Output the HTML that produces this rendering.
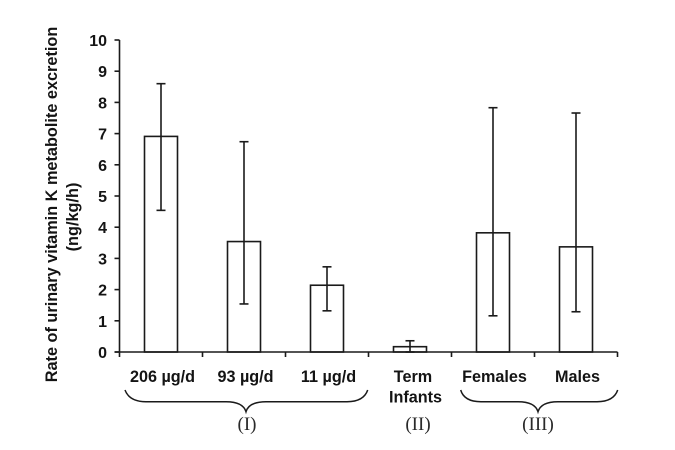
<!DOCTYPE html>
<html lang="en">
<head>
<meta charset="utf-8">
<title>Rate of urinary vitamin K metabolite excretion</title>
<style>
html,body{margin:0;padding:0;background:#fff;width:675px;height:450px;overflow:hidden}
svg{display:block}
text{fill:#141414}
.s{font-family:"Liberation Sans",sans-serif;font-weight:bold}
.r{font-family:"Liberation Serif",serif;font-size:19px;fill:#2a2a2a}
</style>
</head>
<body>
<svg id="chart" width="675" height="450" viewBox="0 0 675 450" xmlns="http://www.w3.org/2000/svg">
  <rect width="675" height="450" fill="#fff"/>
  <g id="bars"></g>
  <g id="axes"></g>
  <text class="s" font-size="16.3" text-anchor="middle" transform="translate(57,204.5) rotate(-90)">Rate of urinary vitamin K metabolite excretion</text>
  <text class="s" font-size="16.3" text-anchor="middle" transform="translate(78,217) rotate(-90)">(ng/kg/h)</text>
  <g fill="none" stroke="#1a1a1a" stroke-width="1.5">
    <path d="M125 390C128 398 135 401.7 146 401.7H226C237 401.7 244 405 246 411.7C248 405 255 401.7 266 401.7H347C358 401.7 365 398 367.7 390"/>
    <path d="M460.7 390C463 398 470 401.7 481 401.7H518C529 401.7 536 405 538 411.7C540 405 547 401.7 558 401.7H597C608 401.7 615 398 617.7 390"/>
  </g>
  <text class="r" x="247" y="430" text-anchor="middle">(I)</text>
  <text class="r" x="418" y="430" text-anchor="middle">(II)</text>
  <text class="r" x="538" y="430" text-anchor="middle">(III)</text>
</svg>
<script>
const categories = [["206 µg/d"], ["93 µg/d"], ["11 µg/d"], ["Term", "Infants"], ["Females"], ["Males"]];
const means = [6.91, 3.54, 2.14, 0.17, 3.82, 3.37];
const errorHigh = [8.6, 6.74, 2.73, 0.36, 7.83, 7.66];
const errorLow = [4.54, 1.54, 1.32, 0, 1.16, 1.29];
const yTicks = [0, 1, 2, 3, 4, 5, 6, 7, 8, 9, 10];

const NS = "http://www.w3.org/2000/svg";
const plotLeft = 119.5, plotRight = 617.5, plotTop = 40, plotBottom = 352;
const yMax = yTicks[yTicks.length - 1];
const band = (plotRight - plotLeft) / categories.length;
const barWidth = 33;
const capHalf = 4.5;
const ink = "#1a1a1a";
const sw = 1.6;
function y(v) { return plotBottom - (v / yMax) * (plotBottom - plotTop); }
function x(i) { return plotLeft + band * (i + 0.5); }
function make(tag, attrs, parent) {
  const el = document.createElementNS(NS, tag);
  for (const k in attrs) el.setAttribute(k, attrs[k]);
  parent.appendChild(el);
  return el;
}
const barsG = document.getElementById("bars");
const axesG = document.getElementById("axes");

categories.forEach(function (lines, i) {
  const g = make("g", {}, barsG);
  
  
  const cx = x(i);
  const bar = make("rect", { x: cx - barWidth / 2, y: y(means[i]), width: barWidth, height: plotBottom - y(means[i]), fill: "#fff", stroke: ink, "stroke-width": sw }, g);
  
  
  const stem = make("line", { x1: cx, x2: cx, y1: y(errorHigh[i]), y2: y(errorLow[i]), stroke: ink, "stroke-width": sw }, g);
  
  
  const capTop = make("line", { x1: cx - capHalf, x2: cx + capHalf, y1: y(errorHigh[i]), y2: y(errorHigh[i]), stroke: ink, "stroke-width": sw }, g);
  
  
  const capLow = make("line", { x1: cx - capHalf, x2: cx + capHalf, y1: y(errorLow[i]), y2: y(errorLow[i]), stroke: ink, "stroke-width": sw }, g);
  
  
  lines.forEach(function (t, j) {
    const label = make("text", { x: cx + 1.5 + (lines.length > 1 ? 1.5 + j * 2.5 : 0), y: 382 + j * 20.5, "text-anchor": "middle", "font-size": 16.2, class: "s" }, axesG);
    
    
    label.textContent = t;
  });
});

const yAxis = make("line", { x1: plotLeft, x2: plotLeft, y1: plotTop, y2: plotBottom, stroke: ink, "stroke-width": sw }, axesG);


const xAxis = make("line", { x1: plotLeft - 5, x2: plotRight, y1: plotBottom, y2: plotBottom, stroke: ink, "stroke-width": sw }, axesG);



yTicks.forEach(function (v) {
  const tick = make("line", { x1: plotLeft - 5, x2: plotLeft, y1: y(v), y2: y(v), stroke: ink, "stroke-width": sw }, axesG);
  
  
  const label = make("text", { x: 107, y: y(v) + 6, "text-anchor": "end", "font-size": 16, class: "s" }, axesG);
  
  
  label.textContent = v;
});
for (let i = 0; i <= categories.length; i++) {
  const px = plotLeft + band * i;
  const tick = make("line", { x1: px, x2: px, y1: plotBottom, y2: plotBottom + 5, stroke: ink, "stroke-width": sw }, axesG);
  
  
}
</script>
</body>
</html>
